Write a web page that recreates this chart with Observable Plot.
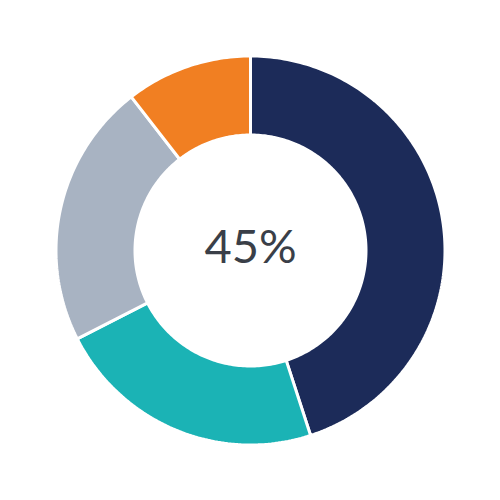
<!DOCTYPE html>
<html>
<head>
<meta charset="utf-8">
<script src="https://cdn.jsdelivr.net/npm/d3@7"></script>
<script src="https://cdn.jsdelivr.net/npm/@observablehq/plot@0.6"></script>
<style>
  html, body { margin: 0; padding: 0; background: #fff; }
  #chart { width: 500px; height: 500px; }
</style>
</head>
<body>
<div id="chart"></div>
<script>
const categories = ["A", "B", "C", "D"];
const values = [45, 22.5, 22, 10.5];
const colors = ["#1c2b59", "#1bb3b5", "#a8b3c2", "#f17f22"];
const centerLabel = "45%";

const innerRatio = 115.5 / 194.5;
const pie = d3.pie().sort(null).value(d => d.value);
const arcs = pie(categories.map((c, i) => ({category: c, value: values[i]})));

// Build polygon outlines for each slice in data space (outer radius = 1)
const pts = [];
arcs.forEach(a => {
  const n = Math.max(2, Math.ceil((a.endAngle - a.startAngle) * 180 / Math.PI));
  const ring = [];
  for (let k = 0; k <= n; k++) {
    const t = a.startAngle + (a.endAngle - a.startAngle) * k / n;
    ring.push([Math.sin(t), Math.cos(t)]);
  }
  for (let k = n; k >= 0; k--) {
    const t = a.startAngle + (a.endAngle - a.startAngle) * k / n;
    ring.push([innerRatio * Math.sin(t), innerRatio * Math.cos(t)]);
  }
  ring.push(ring[0]);
  ring.forEach(([x, y]) => pts.push({category: a.data.category, x, y}));
});

const ext = 250 / 194.5;
const chart = Plot.plot({
  width: 500,
  height: 500,
  margin: 0,
  x: {domain: [-ext, ext], axis: null},
  y: {domain: [-ext, ext], axis: null},
  color: {domain: categories, range: colors},
  marks: [
    Plot.line(pts, {x: "x", y: "y", z: "category", fill: "category", stroke: "white", strokeWidth: 3, strokeLinejoin: "miter", curve: "linear"}),
    Plot.text([centerLabel], {x: () => 0, y: () => 0, text: d => d, fontSize: 47, fill: "#3a3f48", fontFamily: "Lato", fontWeight: 400, dy: -3})
  ],
  style: {background: "white"}
});
document.getElementById("chart").appendChild(chart);
</script>
</body>
</html>
